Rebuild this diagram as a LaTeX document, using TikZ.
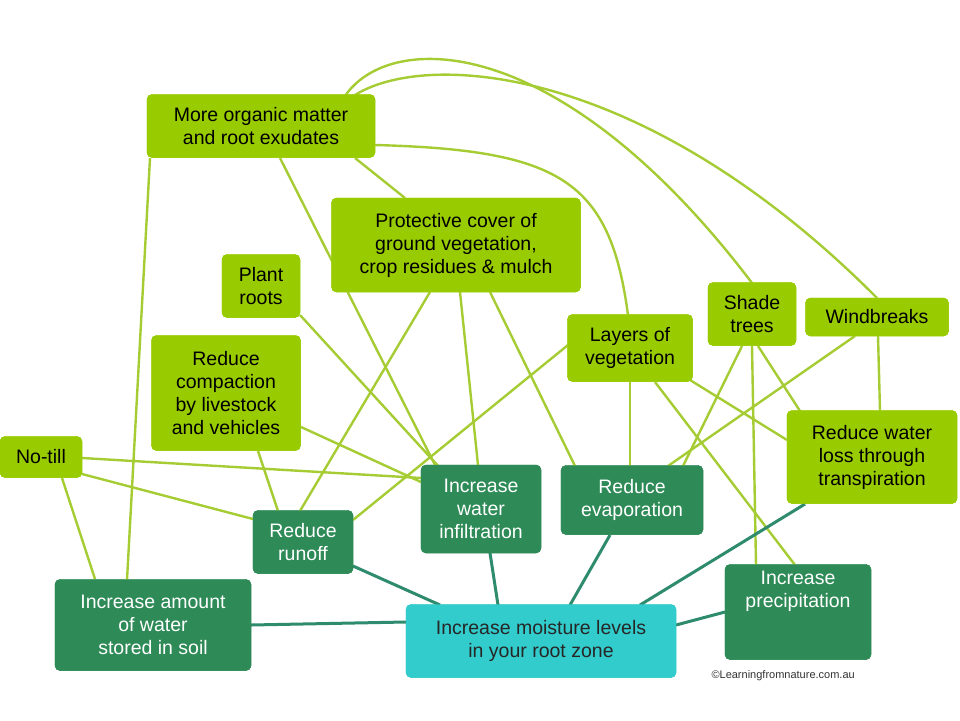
\documentclass[tikz,border=0pt]{standalone}
\usepackage{fontspec}
\setmainfont{Liberation Sans}
\begin{document}
\begin{tikzpicture}[x=1pt,y=-1pt,
 box/.style={rounded corners=5pt,align=center,inner sep=0pt,font=\fontsize{19.5}{23}\selectfont},
 lg/.style={box,fill=lgreen,draw=lgreen,text=black},
 dg/.style={box,fill=dgreen,draw=dgreen,text=white},
 ll/.style={draw=lline,line width=2.4pt},
 dl/.style={draw=dline,line width=3pt}]
\definecolor{lgreen}{HTML}{99CC00}
\definecolor{dgreen}{HTML}{2E8B57}
\definecolor{lline}{HTML}{A6CC33}
\definecolor{dline}{HTML}{2E8B6E}
\definecolor{cyanb}{HTML}{33CCCC}
\useasboundingbox (0,0) rectangle (960,720);
\fill[white] (0,0) rectangle (960,720);
% coordinates as node centres
\node[lg,minimum width=228,minimum height=63] (org) at (261,126) {More organic matter\\and root exudates};
\node[lg,minimum width=249,minimum height=94] (prot) at (456,245) {Protective cover of\\ground vegetation,\\crop residues \& mulch};
\node[lg,minimum width=78,minimum height=63] (roots) at (261,286) {Plant\\roots};
\node[lg,minimum width=149,minimum height=115] (comp) at (226,393) {Reduce\\compaction\\by livestock\\and vehicles};
\node[lg,minimum width=82,minimum height=41] (till) at (41,457) {No-till};
\node[lg,minimum width=125,minimum height=67] (lay) at (630,348) {Layers of\\vegetation};
\node[lg,minimum width=88,minimum height=63] (shade) at (752,314) {Shade\\trees};
\node[lg,minimum width=143,minimum height=38] (wind) at (877,317) {Windbreaks};
\node[lg,minimum width=170,minimum height=93] (loss) at (872,457) {Reduce water\\loss through\\transpiration};
\node[dg,minimum width=120,minimum height=88] (inf) at (481,509) {Increase\\water\\infiltration};
\node[dg,minimum width=142,minimum height=69] (evap) at (632,500) {Reduce\\evaporation};
\node[dg,minimum width=100,minimum height=63] (run) at (303,542) {Reduce\\runoff};
\node[dg,minimum width=196,minimum height=91] (amt) at (153,625) {Increase amount\\of water\\stored in soil};
\node[box,fill=cyanb,draw=cyanb,text=black!85,minimum width=270,minimum height=73] (moist) at (541,641) {Increase moisture levels\\in your root zone};
\node[dg,minimum width=146,minimum height=95] (prec) at (798,612) {Increase\\precipitation\\[22pt]};
\node[anchor=west,font=\fontsize{11}{13}\selectfont,text=black!80] (copy) at (708,676) {©Learningfromnature.com.au};
\begin{scope}[on background layer/.try]
\end{scope}
% light connectors (drawn before boxes visually: use pgfonlayer-free approach by redrawing boxes after)
\begin{scope}
\path[ll] (org.south west) ++(3,0) coordinate (o1);
\draw[ll] (150,158) -- (127,580);
\draw[ll] (280,158) -- (435,465);
\draw[ll] (355,158) -- (405,198);
\draw[ll] (375,145) .. controls (560,150) and (610,180) .. (628,315);
\draw[ll] (345,96) .. controls (390,30) and (560,30) .. (752,283);
\draw[ll] (352,97) .. controls (420,50) and (640,60) .. (877,298);
\draw[ll] (430,292) -- (300,511);
\draw[ll] (460,292) -- (478,465);
\draw[ll] (490,292) -- (575,466);
\draw[ll] (300,315) -- (440,468);
\draw[ll] (258,451) -- (278,511);
\draw[ll] (301,427) -- (421,482);
\draw[ll] (82,458) -- (421,478);
\draw[ll] (82,474) -- (253,519);
\draw[ll] (62,478) -- (95,579);
\draw[ll] (568,345) -- (353,520);
\draw[ll] (630,382) -- (630,466);
\draw[ll] (655,382) -- (795,565);
\draw[ll] (690,380) -- (787,440);
\draw[ll] (742,346) -- (683,466);
\draw[ll] (752,346) -- (756,565);
\draw[ll] (758,346) -- (800,411);
\draw[ll] (855,336) -- (668,466);
\draw[ll] (878,336) -- (880,411);
\draw[dl] (353,566) -- (440,605);
\draw[dl] (490,553) -- (498,605);
\draw[dl] (610,535) -- (570,605);
\draw[dl] (805,504) -- (640,605);
\draw[dl] (725,612) -- (676,625);
\draw[dl] (251,625) -- (406,622);
\end{scope}
% redraw boxes on top
\node[lg,minimum width=228,minimum height=63] at (261,126) {More organic matter\\and root exudates};
\node[lg,minimum width=249,minimum height=94] at (456,245) {Protective cover of\\ground vegetation,\\crop residues \& mulch};
\node[lg,minimum width=78,minimum height=63] at (261,286) {Plant\\roots};
\node[lg,minimum width=149,minimum height=115] at (226,393) {Reduce\\compaction\\by livestock\\and vehicles};
\node[lg,minimum width=82,minimum height=41] at (41,457) {No-till};
\node[lg,minimum width=125,minimum height=67] at (630,348) {Layers of\\vegetation};
\node[lg,minimum width=88,minimum height=63] at (752,314) {Shade\\trees};
\node[lg,minimum width=143,minimum height=38] at (877,317) {Windbreaks};
\node[lg,minimum width=170,minimum height=93] at (872,457) {Reduce water\\loss through\\transpiration};
\node[dg,minimum width=120,minimum height=88] at (481,509) {Increase\\water\\infiltration};
\node[dg,minimum width=142,minimum height=69] at (632,500) {Reduce\\evaporation};
\node[dg,minimum width=100,minimum height=63] at (303,542) {Reduce\\runoff};
\node[dg,minimum width=196,minimum height=91] at (153,625) {Increase amount\\of water\\stored in soil};
\node[box,fill=cyanb,draw=cyanb,text=black!85,minimum width=270,minimum height=73] at (541,641) {Increase moisture levels\\in your root zone};
\node[dg,minimum width=146,minimum height=95] at (798,612) {Increase\\precipitation\\[22pt]};
\end{tikzpicture}
\end{document}
